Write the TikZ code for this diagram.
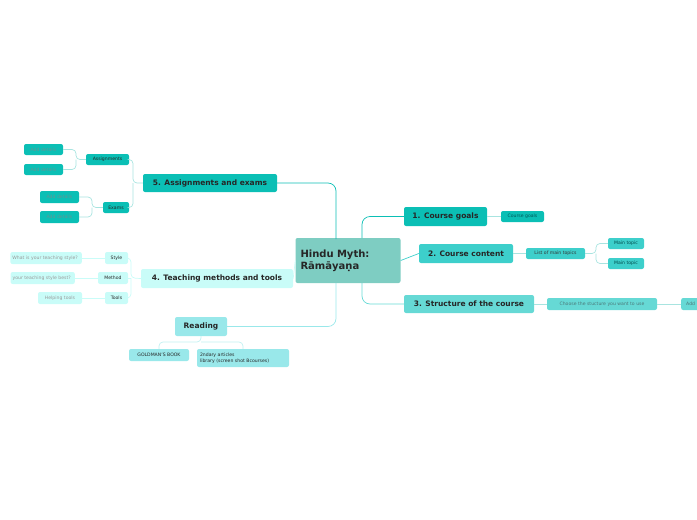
\documentclass[tikz,border=0pt]{standalone}
\usepackage{fontspec}
\setmainfont{DejaVu Sans}
\begin{document}
\begin{tikzpicture}[x=1pt,y=-1pt,
 box/.style={rounded corners=2pt,inner sep=0pt,align=left},
 big/.style={box,font=\bfseries\fontsize{7.5}{9}\selectfont,text=black!85},
 sm/.style={box,font=\fontsize{4.6}{5.5}\selectfont},
 ln/.style={draw=#1,line width=0.7pt,rounded corners=8pt},
 ln/.default={cyan!30!teal!25}]
\useasboundingbox (0,0) rectangle (697,520);
\definecolor{c1}{HTML}{0BBFB5}
\definecolor{c2}{HTML}{3DCFCB}
\definecolor{c3}{HTML}{66D9D5}
\definecolor{c4}{HTML}{C9FCF8}
\definecolor{c5}{HTML}{99E8EA}
\definecolor{cr}{HTML}{7ECDC2}
\definecolor{lc}{HTML}{A8E4E0}
% root
\node[box,fill=cr,minimum width=105,minimum height=45,text width=95,font=\bfseries\fontsize{10}{12}\selectfont,text=black!85] (root) at (348,260.5) {Hindu Myth:\\Rāmāyaṇa};
% right
\node[big,fill=c1,minimum width=83,minimum height=19,align=center] (g) at (445.5,216.5) {1. Course goals};
\node[sm,fill=c1,text=teal!70!black,minimum width=43,minimum height=11] (g1) at (522.5,216.5) {Course goals};
\node[big,fill=c2,minimum width=94,minimum height=19,align=center] (c) at (466,253.5) {2. Course content};
\node[sm,fill=c2,text=black!80,minimum width=59,minimum height=11] (c1) at (555.5,253.5) {List of main topics};
\node[sm,fill=c2,text=teal!60!black,minimum width=36,minimum height=11] (c2) at (626,243.5) {Main topic};
\node[sm,fill=c2,text=teal!60!black,minimum width=36,minimum height=11] (c3) at (626,263.5) {Main topic};
\node[big,fill=c3,minimum width=130,minimum height=18,align=center] (s) at (469,304) {3. Structure of the course};
\node[sm,fill=c3,text=teal!50!black!70,minimum width=110,minimum height=12] (s1) at (602,304) {Choose the stucture you want to use};
\node[sm,fill=c3,text=teal!50!black!70,minimum width=24,minimum height=12,anchor=west,text width=20] (s2) at (681,304) {\hspace{3pt}Add};
% left
\node[big,fill=c1,minimum width=134,minimum height=18,align=center] (a) at (210,183) {5. Assignments and exams};
\node[sm,fill=c1,text=black!85,minimum width=43,minimum height=11] (a1) at (107.5,159.5) {Assignments};
\node[sm,fill=c1,text=teal!60!black!60,minimum width=39,minimum height=11] (a11) at (43.5,149.5) {Add details};
\node[sm,fill=c1,text=teal!60!black!60,minimum width=39,minimum height=11] (a12) at (43.5,169.5) {Add details};
\node[sm,fill=c1,text=black!85,minimum width=26,minimum height=11] (a2) at (116,207.5) {Exams};
\node[sm,fill=c1,text=teal!60!black!60,minimum width=39,minimum height=12] (a21) at (59.5,197) {Add details};
\node[sm,fill=c1,text=teal!60!black!60,minimum width=39,minimum height=12] (a22) at (59.5,217) {Add details};
\node[big,fill=c4,minimum width=152,minimum height=19,align=center] (t) at (217,278.5) {4. Teaching methods and tools};
\node[sm,fill=c4,text=black!85,minimum width=23,minimum height=12] (t1) at (116.5,258) {Style};
\node[sm,fill=c4,text=black!85,minimum width=30,minimum height=12] (t2) at (113,278) {Method};
\node[sm,fill=c4,text=black!85,minimum width=23,minimum height=12] (t3) at (116.5,298) {Tools};
\node[sm,fill=c4,text=black!40,minimum height=12,anchor=east] (t11) at (82,258) {\hspace{2pt}What is your teaching style?\hspace{4pt}};
\node[sm,fill=c4,text=black!40,minimum height=12,anchor=east] (t21) at (75,278) {\hspace{2pt}your teaching style best?\hspace{4pt}};
\node[sm,fill=c4,text=black!40,minimum width=44,minimum height=12] (t31) at (60,298) {Helping tools};
\node[big,fill=c5,minimum width=52,minimum height=19,align=center] (r) at (201,326.5) {Reading};
\node[sm,fill=c5,text=black!85,minimum width=60,minimum height=12] (r1) at (159,355) {GOLDMAN'S BOOK};
\node[sm,fill=c5,text=black!85,minimum width=92,minimum height=18,text width=86] (r2) at (243,358) {2ndary articles\\library (screen shot Bcourses)};
% connectors root
\draw[ln=c1] (a.east) -- (336,183) -- (336,239);
\draw[ln=c4] (t.east) -- (root.west);
\draw[ln=c5] (r.east) -- (336,326.5) -- (336,283);
\draw[ln=c1] (362,238) -- (362,216.5) -- (g.west);
\draw[ln=c2] (root.east) -- (c.west);
\draw[ln=c3] (362,283) -- (362,304) -- (s.west);
% sub
\draw[ln=lc] (g.east) -- (g1.west);
\draw[ln=lc] (c.east) -- (c1.west);
\draw[ln=lc,rounded corners=4pt] (c1.east) -- (596,253.5) |- (c2.west);
\draw[ln=lc,rounded corners=4pt] (596,253.5) |- (c3.west);
\draw[ln=lc] (s.east) -- (s1.west);
\draw[ln=lc] (s1.east) -- (s2.west);
\draw[ln=lc,rounded corners=4pt] (a.west) -- (133,183) |- (a1.east);
\draw[ln=lc,rounded corners=4pt] (133,183) |- (a2.east);
\draw[ln=lc,rounded corners=4pt] (a1.west) -- (76,159.5) |- (a11.east);
\draw[ln=lc,rounded corners=4pt] (76,159.5) |- (a12.east);
\draw[ln=lc,rounded corners=4pt] (a2.west) -- (92,207.5) |- (a21.east);
\draw[ln=lc,rounded corners=4pt] (92,207.5) |- (a22.east);
\draw[ln=c4,rounded corners=4pt] (t.west) -- (131,278) |- (t1.east);
\draw[ln=c4,rounded corners=4pt] (131,278) |- (t3.east);
\draw[ln=c4] (131,278) -- (t2.east);
\draw[ln=c4] (t1.west) -- (t11.east);
\draw[ln=c4] (t2.west) -- (t21.east);
\draw[ln=c4] (t3.west) -- (t31.east);
\draw[ln=c5!60,rounded corners=4pt] (r.south) -- (201,342) -| (r1.north);
\draw[ln=c5!60,rounded corners=4pt] (201,342) -| (r2.north);
\end{tikzpicture}
\end{document}
